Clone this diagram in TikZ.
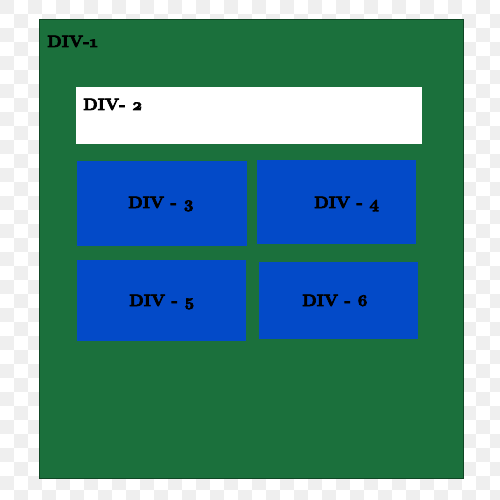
\documentclass[tikz,border=0pt]{standalone}
\usepackage{fontspec}
\newfontfamily\divfont{lmroman10-bold}[Extension=.otf,Numbers=OldStyle,FakeBold=4]
\definecolor{divgreen}{RGB}{27,112,60}
\definecolor{divgreenline}{RGB}{15,70,36}
\definecolor{divblue}{RGB}{3,74,200}
\definecolor{checkgray}{RGB}{239,239,239}
\begin{document}
\begin{tikzpicture}[x=1pt,y=-1pt,
  box/.style={anchor=north west,inner sep=0pt,outer sep=0pt},
  lbl/.style={inner sep=0pt,anchor=base west,font=\divfont\fontsize{16.5}{18}\selectfont,text=black}]
\useasboundingbox (0,0) rectangle (500,500);
\fill[white] (0,0) rectangle (500,500);
\foreach \i in {0,...,35}{\foreach \j in {0,...,35}{
  \pgfmathparse{int(mod(\i+\j,2))}
  \ifnum\pgfmathresult=0 \fill[checkgray] (\i*14,\j*14) rectangle ++(14,14);\fi}}
\node[box,fill=divgreen,draw=divgreenline,line width=0.8pt,minimum width=424pt,minimum height=459pt] (d1) at (39,19) {};
\node[box,fill=white,minimum width=346pt,minimum height=57pt] (d2) at (76,87) {};
\node[box,fill=divblue,minimum width=170pt,minimum height=85pt] (d3) at (77,161) {};
\node[box,fill=divblue,minimum width=159pt,minimum height=84pt] (d4) at (257,160) {};
\node[box,fill=divblue,minimum width=169pt,minimum height=81pt] (d5) at (77,260) {};
\node[box,fill=divblue,minimum width=159pt,minimum height=77pt] (d6) at (259,262) {};
\node[lbl] (t1) at (47,47) {DIV-1};
\node[lbl] (t2) at (83,110) {DIV- 2};
\node[lbl] (t3) at (128,208) {DIV - 3};
\node[lbl] (t4) at (314,208) {DIV - 4};
\node[lbl] (t5) at (129,306) {DIV - 5};
\node[lbl] (t6) at (302,306) {DIV - 6};
\end{tikzpicture}
\end{document}
